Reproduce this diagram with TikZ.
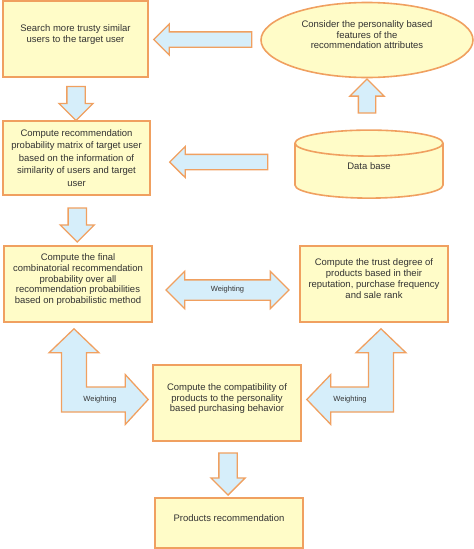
\documentclass[tikz,border=0pt]{standalone}
\usepackage{fontspec}
\setmainfont{Liberation Sans}
\usetikzlibrary{shapes.geometric,shapes.arrows,calc,positioning}

\definecolor{boxline}{HTML}{F0A060}
\definecolor{boxfill}{HTML}{FFFCC8}
\definecolor{arrowfill}{HTML}{D6EEFA}
\definecolor{textgray}{HTML}{333333}

\begin{document}
\begin{tikzpicture}[
        x=1pt, y=-1pt,
        font=\fontsize{9.5}{10.8}\selectfont,
        text=textgray,
        % Block styles
        proc/.style={
            rectangle,
            draw=boxline,
            fill=boxfill,
            line width=1.6pt,
            inner sep=0pt,
            minimum height=76pt,
            minimum width=148pt,
            align=center
        },
        blockarrow/.style={
            single arrow,
            draw=boxline,
            fill=arrowfill,
            line width=1.3pt,
            minimum width=0pt,
            single arrow head extend=8pt,
            inner sep=7pt
        },
        elbow/.style={draw=boxline, fill=arrowfill, line width=1.3pt},
        weight/.style={font=\fontsize{7.5}{9}\selectfont}
    ]
    \useasboundingbox (0,0) rectangle (474,549);

    % Left column
    \node[proc, minimum width=145pt] (search) at (75.5,39) {Search more trusty similar\\users to the target user\\\mbox{}};
    \node[proc, minimum width=147pt, minimum height=74pt, font=\fontsize{9.5}{12.5}\selectfont] (prob) at (76.5,158) {Compute recommendation\\probability matrix of target user\\based on the information of\\similarity of users and target\\user};
    \node[proc] (final) at (78,284) {Compute the final\\combinatorial recommendation\\probability over all\\recommendation probabilities\\based on probabilistic method\\\mbox{}};

    % Right column
    \node[ellipse, draw=boxline, fill=boxfill, line width=1.6pt, inner sep=0pt,
          minimum width=212pt, minimum height=75pt, align=center] (consider) at (367,40)
          {Consider the personality based\\features of the\\recommendation attributes\\\mbox{}};
    \node[cylinder, shape border rotate=90, aspect=0.6, draw=boxline, fill=boxfill, line width=1.6pt,
          inner sep=0pt, minimum width=148pt, minimum height=68pt, align=center] (db) at (369,171) {Data base\\\mbox{}};
    \node[proc] (trust) at (374,284) {Compute the trust degree of\\products based in their\\reputation, purchase frequency\\and sale rank\\\mbox{}};

    % Bottom
    \node[proc] (compat) at (227,403) {Compute the compatibility of\\products to the personality\\based purchasing behavior\\\mbox{}};
    \node[proc, minimum height=50pt] (prod) at (229,523) {Products recommendation\\\mbox{}};

    % Block arrows
    \node[blockarrow, shape border rotate=180, minimum height=98pt] (a1) at ($(consider.west)!0.5!(search.east)+(2,0)$) {};
    \node[blockarrow, shape border rotate=180, minimum height=98pt] (a2) at ($(prob.east)!0.5!(db.west |- prob.east)+(0,4)$) {};
    \node[blockarrow, shape border rotate=90, inner sep=8pt, single arrow head extend=8.5pt, minimum height=34pt] (a3) at ($(consider.south)+(0,22)$) {};
    \node[blockarrow, shape border rotate=270, inner sep=8.5pt, minimum height=34pt] (a4) at ($(search.south)!0.5!(prob.north)$) {};
    \node[blockarrow, shape border rotate=270, inner sep=8.5pt, minimum height=34pt] (a5) at ($(prob.south)!0.5!(final.north)$) {};
    \node[blockarrow, shape border rotate=270, inner sep=8.5pt, minimum height=42pt] (a6) at ($(compat.south)!0.5!(prod.north)$) {};

    % Weighting
    \node[double arrow, draw=boxline, fill=arrowfill, line width=1.3pt, minimum width=0pt,
          double arrow head extend=8.5pt, inner sep=9.5pt, minimum height=123pt] (wgt) at ($(final.east)!0.5!(trust.west)+(1.5,6)$) {};
    \node[weight] (w1) at (wgt) {Weighting};

    \coordinate (u1) at ([xshift=-4pt,yshift=-6pt]final.south);
    \coordinate (r1) at ([xshift=-4pt,yshift=3.5pt]compat.west);
    \coordinate (u2) at ([xshift=7pt,yshift=-6pt]trust.south);
    \coordinate (r2) at ([xshift=5pt,yshift=3.5pt]compat.east);

    \draw[elbow] let \p1=(u1), \p2=(r1) in
        (\x1,\y1) -- (\x1+25pt,\y1-24pt) -- (\x1+12.5pt,\y1-24pt) -- (\x1+12.5pt,\y2+12.5pt)
        -- (\x2-23pt,\y2+12.5pt) -- (\x2-23pt,\y2+25pt) -- (\x2,\y2) -- (\x2-23pt,\y2-25pt)
        -- (\x2-23pt,\y2-12.5pt) -- (\x1-12.5pt,\y2-12.5pt) -- (\x1-12.5pt,\y1-24pt)
        -- (\x1-25pt,\y1-24pt) -- cycle;
    \draw[elbow] let \p1=(u2), \p2=(r2) in
        (\x1,\y1) -- (\x1+25pt,\y1-24pt) -- (\x1+12.5pt,\y1-24pt) -- (\x1+12.5pt,\y2-12.5pt)
        -- (\x2+24pt,\y2-12.5pt) -- (\x2+24pt,\y2-25pt) -- (\x2,\y2) -- (\x2+24pt,\y2+25pt)
        -- (\x2+24pt,\y2+12.5pt) -- (\x1-12.5pt,\y2+12.5pt) -- (\x1-12.5pt,\y1-24pt)
        -- (\x1-25pt,\y1-24pt) -- cycle;

    \coordinate (k1) at (u1 |- r1);
    \coordinate (k2) at (u2 |- r2);
    \node[weight] (w2) at ($(k1)+(26,0)$) {Weighting};
    \node[weight] (w3) at ($(k2)+(-31,0)$) {Weighting};

\end{tikzpicture}
\end{document}
